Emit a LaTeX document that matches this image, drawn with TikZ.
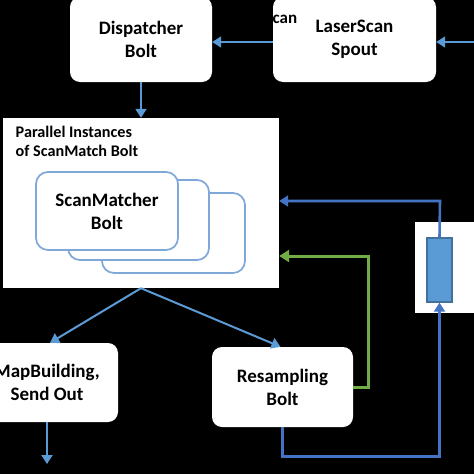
\documentclass[tikz,border=0pt]{standalone}
\usepackage{fontspec}
\setmainfont{Carlito}
\usetikzlibrary{arrows.meta,calc}
\definecolor{lblue}{HTML}{5B9BD5}
\definecolor{dblue}{HTML}{4472C4}
\definecolor{ggreen}{HTML}{70AD47}
\definecolor{smline}{HTML}{7FA8D8}
\definecolor{rectline}{HTML}{41719C}
\tikzset{
  wbox/.style={fill=white, draw=none, rounded corners=10pt, align=center, inner sep=0pt,
    font=\fontsize{19}{23}\selectfont\bfseries},
  smbox/.style={fill=white, draw=smline, line width=1.7pt, rounded corners=12pt, inner sep=0pt},
  arr/.style={draw=lblue, line width=2pt, -{Triangle[width=11pt,length=9pt]}},
  loop/.style={draw=dblue, line width=2.6pt, -{Triangle[width=11pt,length=9pt]}},
  gloop/.style={draw=ggreen, line width=3pt, -{Triangle[width=12pt,length=10pt]}}
}
\begin{document}
\begin{tikzpicture}[x=1pt,y=-1pt]
\fill[black] (0,0) rectangle (474,474);
\useasboundingbox (0,0) rectangle (474,474);
% top boxes
\node[wbox, minimum width=142pt, minimum height=85pt] (disp) at (141,39.5) {Dispatcher\\Bolt};
\node[wbox, minimum width=163pt, minimum height=85pt] (laser) at (354.5,39.5) {LaserScan\\Spout};
\node[font=\fontsize{17}{20}\selectfont\bfseries, text=black, anchor=west, inner sep=0pt] (scanlbl) at (272.5,19) {can};
% big container
\node[fill=white, draw=none, minimum width=276pt, minimum height=170pt, inner sep=0pt] (big) at (141,203) {};
\node[anchor=north west, align=left, inner sep=0pt, font=\fontsize{16.2}{19.5}\selectfont\bfseries] (ptitle) at (15.5,125.5) {Parallel Instances\\of ScanMatch Bolt};
\node[smbox, minimum width=143pt, minimum height=80pt] (sm3) at (173.5,233) {};
\node[smbox, minimum width=141pt, minimum height=80pt] (sm2) at (138.5,220) {};
\node[smbox, minimum width=142pt, minimum height=78pt, align=center, font=\fontsize{19}{23}\selectfont\bfseries] (sm1) at (107,211) {ScanMatcher\\Bolt};
% bottom boxes
\node[wbox, minimum width=142pt, minimum height=79pt] (map) at (47,382.5) {MapBuilding,\\Send Out};
\node[wbox, minimum width=141pt, minimum height=80pt] (resamp) at (282.5,387) {Resampling\\Bolt};
% right box
\node[fill=white, draw=none, minimum width=65pt, minimum height=91pt, inner sep=0pt] (rbox) at (447.5,267.5) {};
\node[fill=lblue, draw=rectline, line width=1.4pt, minimum width=25pt, minimum height=64pt, inner sep=0pt] (brect) at (439.5,270) {};
% connectors
\coordinate (inR) at (474,42);
\draw[arr] (inR) -- (laser.east |- inR);
\draw[arr] (laser.west |- inR) -- (disp.east |- inR);
\draw[arr] (disp.south) -- (big.north);
\draw[arr] (big.south) -- ([xshift=3pt]map.north);
\draw[arr] (big.south) -- ([xshift=-2pt]resamp.north);
\coordinate (mapout) at (47,464);
\draw[arr] (map.south) -- (mapout);
\coordinate (g) at (368,256);
\draw[gloop] (resamp.east) -| (g) -- (big.east |- g);
\coordinate (b1) at (440,201);
\draw[loop] (brect.north) -- (b1) -- (big.east |- b1);
\draw[loop] (resamp.south) -- ++(0,29) -| (brect.south);
\end{tikzpicture}
\end{document}
